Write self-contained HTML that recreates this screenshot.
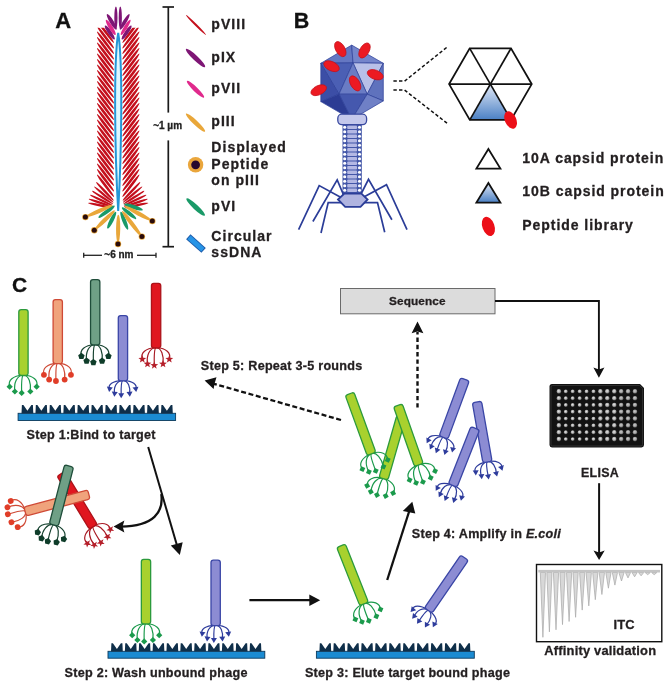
<!DOCTYPE html>
<html><head><meta charset="utf-8"><title>Phage display</title>
<style>html,body{margin:0;padding:0;background:#fff;width:669px;height:685px;overflow:hidden}
svg{display:block;will-change:transform} text{font-family:"Liberation Sans",sans-serif;font-weight:bold}</style></head>
<body><svg width="669" height="685" viewBox="0 0 669 685">
<rect width="669" height="685" fill="#fff"/>
<text x="55.3" y="28" font-size="22" fill="#111" stroke="#111" stroke-width="0.3" letter-spacing="0" text-anchor="start" >A</text>
<defs><clipPath id="rc"><rect x="80" y="27.8" width="80" height="200"/></clipPath></defs>
<g clip-path="url(#rc)">
<ellipse cx="105.50" cy="20.75" rx="14.06" ry="1.35" transform="rotate(53.00 105.50 20.75)" fill="#c40f1c"/>
<ellipse cx="130.90" cy="20.75" rx="14.06" ry="1.35" transform="rotate(127.00 130.90 20.75)" fill="#c40f1c"/>
<ellipse cx="105.50" cy="26.25" rx="14.06" ry="1.35" transform="rotate(53.00 105.50 26.25)" fill="#c40f1c"/>
<ellipse cx="130.90" cy="26.25" rx="14.06" ry="1.35" transform="rotate(127.00 130.90 26.25)" fill="#c40f1c"/>
<ellipse cx="105.50" cy="31.75" rx="14.06" ry="1.35" transform="rotate(53.00 105.50 31.75)" fill="#c40f1c"/>
<ellipse cx="130.90" cy="31.75" rx="14.06" ry="1.35" transform="rotate(127.00 130.90 31.75)" fill="#c40f1c"/>
<ellipse cx="105.50" cy="37.25" rx="14.06" ry="1.35" transform="rotate(53.00 105.50 37.25)" fill="#c40f1c"/>
<ellipse cx="130.90" cy="37.25" rx="14.06" ry="1.35" transform="rotate(127.00 130.90 37.25)" fill="#c40f1c"/>
<ellipse cx="105.50" cy="42.75" rx="14.06" ry="1.35" transform="rotate(53.00 105.50 42.75)" fill="#c40f1c"/>
<ellipse cx="130.90" cy="42.75" rx="14.06" ry="1.35" transform="rotate(127.00 130.90 42.75)" fill="#c40f1c"/>
<ellipse cx="105.50" cy="48.25" rx="14.06" ry="1.35" transform="rotate(53.00 105.50 48.25)" fill="#c40f1c"/>
<ellipse cx="130.90" cy="48.25" rx="14.06" ry="1.35" transform="rotate(127.00 130.90 48.25)" fill="#c40f1c"/>
<ellipse cx="105.50" cy="53.75" rx="14.06" ry="1.35" transform="rotate(53.00 105.50 53.75)" fill="#c40f1c"/>
<ellipse cx="130.90" cy="53.75" rx="14.06" ry="1.35" transform="rotate(127.00 130.90 53.75)" fill="#c40f1c"/>
<ellipse cx="105.50" cy="59.25" rx="14.06" ry="1.35" transform="rotate(53.00 105.50 59.25)" fill="#c40f1c"/>
<ellipse cx="130.90" cy="59.25" rx="14.06" ry="1.35" transform="rotate(127.00 130.90 59.25)" fill="#c40f1c"/>
<ellipse cx="105.50" cy="64.75" rx="14.06" ry="1.35" transform="rotate(53.00 105.50 64.75)" fill="#c40f1c"/>
<ellipse cx="130.90" cy="64.75" rx="14.06" ry="1.35" transform="rotate(127.00 130.90 64.75)" fill="#c40f1c"/>
<ellipse cx="105.50" cy="70.25" rx="14.06" ry="1.35" transform="rotate(53.00 105.50 70.25)" fill="#c40f1c"/>
<ellipse cx="130.90" cy="70.25" rx="14.06" ry="1.35" transform="rotate(127.00 130.90 70.25)" fill="#c40f1c"/>
<ellipse cx="105.50" cy="75.75" rx="14.06" ry="1.35" transform="rotate(53.00 105.50 75.75)" fill="#c40f1c"/>
<ellipse cx="130.90" cy="75.75" rx="14.06" ry="1.35" transform="rotate(127.00 130.90 75.75)" fill="#c40f1c"/>
<ellipse cx="105.50" cy="81.25" rx="14.06" ry="1.35" transform="rotate(53.00 105.50 81.25)" fill="#c40f1c"/>
<ellipse cx="130.90" cy="81.25" rx="14.06" ry="1.35" transform="rotate(127.00 130.90 81.25)" fill="#c40f1c"/>
<ellipse cx="105.50" cy="86.75" rx="14.06" ry="1.35" transform="rotate(53.00 105.50 86.75)" fill="#c40f1c"/>
<ellipse cx="130.90" cy="86.75" rx="14.06" ry="1.35" transform="rotate(127.00 130.90 86.75)" fill="#c40f1c"/>
<ellipse cx="105.50" cy="92.25" rx="14.06" ry="1.35" transform="rotate(53.00 105.50 92.25)" fill="#c40f1c"/>
<ellipse cx="130.90" cy="92.25" rx="14.06" ry="1.35" transform="rotate(127.00 130.90 92.25)" fill="#c40f1c"/>
<ellipse cx="105.50" cy="97.75" rx="14.06" ry="1.35" transform="rotate(53.00 105.50 97.75)" fill="#c40f1c"/>
<ellipse cx="130.90" cy="97.75" rx="14.06" ry="1.35" transform="rotate(127.00 130.90 97.75)" fill="#c40f1c"/>
<ellipse cx="105.50" cy="103.25" rx="14.06" ry="1.35" transform="rotate(53.00 105.50 103.25)" fill="#c40f1c"/>
<ellipse cx="130.90" cy="103.25" rx="14.06" ry="1.35" transform="rotate(127.00 130.90 103.25)" fill="#c40f1c"/>
<ellipse cx="105.50" cy="108.75" rx="14.06" ry="1.35" transform="rotate(53.00 105.50 108.75)" fill="#c40f1c"/>
<ellipse cx="130.90" cy="108.75" rx="14.06" ry="1.35" transform="rotate(127.00 130.90 108.75)" fill="#c40f1c"/>
<ellipse cx="105.50" cy="114.25" rx="14.06" ry="1.35" transform="rotate(53.00 105.50 114.25)" fill="#c40f1c"/>
<ellipse cx="130.90" cy="114.25" rx="14.06" ry="1.35" transform="rotate(127.00 130.90 114.25)" fill="#c40f1c"/>
<ellipse cx="105.50" cy="119.75" rx="14.06" ry="1.35" transform="rotate(53.00 105.50 119.75)" fill="#c40f1c"/>
<ellipse cx="130.90" cy="119.75" rx="14.06" ry="1.35" transform="rotate(127.00 130.90 119.75)" fill="#c40f1c"/>
<ellipse cx="105.50" cy="125.25" rx="14.06" ry="1.35" transform="rotate(53.00 105.50 125.25)" fill="#c40f1c"/>
<ellipse cx="130.90" cy="125.25" rx="14.06" ry="1.35" transform="rotate(127.00 130.90 125.25)" fill="#c40f1c"/>
<ellipse cx="105.50" cy="130.75" rx="14.06" ry="1.35" transform="rotate(53.00 105.50 130.75)" fill="#c40f1c"/>
<ellipse cx="130.90" cy="130.75" rx="14.06" ry="1.35" transform="rotate(127.00 130.90 130.75)" fill="#c40f1c"/>
<ellipse cx="105.50" cy="136.25" rx="14.06" ry="1.35" transform="rotate(53.00 105.50 136.25)" fill="#c40f1c"/>
<ellipse cx="130.90" cy="136.25" rx="14.06" ry="1.35" transform="rotate(127.00 130.90 136.25)" fill="#c40f1c"/>
<ellipse cx="105.50" cy="141.75" rx="14.06" ry="1.35" transform="rotate(53.00 105.50 141.75)" fill="#c40f1c"/>
<ellipse cx="130.90" cy="141.75" rx="14.06" ry="1.35" transform="rotate(127.00 130.90 141.75)" fill="#c40f1c"/>
<ellipse cx="105.50" cy="147.25" rx="14.06" ry="1.35" transform="rotate(53.00 105.50 147.25)" fill="#c40f1c"/>
<ellipse cx="130.90" cy="147.25" rx="14.06" ry="1.35" transform="rotate(127.00 130.90 147.25)" fill="#c40f1c"/>
<ellipse cx="105.50" cy="152.75" rx="14.06" ry="1.35" transform="rotate(53.00 105.50 152.75)" fill="#c40f1c"/>
<ellipse cx="130.90" cy="152.75" rx="14.06" ry="1.35" transform="rotate(127.00 130.90 152.75)" fill="#c40f1c"/>
<ellipse cx="105.50" cy="158.25" rx="14.06" ry="1.35" transform="rotate(53.00 105.50 158.25)" fill="#c40f1c"/>
<ellipse cx="130.90" cy="158.25" rx="14.06" ry="1.35" transform="rotate(127.00 130.90 158.25)" fill="#c40f1c"/>
<ellipse cx="105.50" cy="163.75" rx="14.06" ry="1.35" transform="rotate(53.00 105.50 163.75)" fill="#c40f1c"/>
<ellipse cx="130.90" cy="163.75" rx="14.06" ry="1.35" transform="rotate(127.00 130.90 163.75)" fill="#c40f1c"/>
<ellipse cx="105.50" cy="169.25" rx="14.06" ry="1.35" transform="rotate(53.00 105.50 169.25)" fill="#c40f1c"/>
<ellipse cx="130.90" cy="169.25" rx="14.06" ry="1.35" transform="rotate(127.00 130.90 169.25)" fill="#c40f1c"/>
<ellipse cx="105.50" cy="174.75" rx="14.06" ry="1.35" transform="rotate(53.00 105.50 174.75)" fill="#c40f1c"/>
<ellipse cx="130.90" cy="174.75" rx="14.06" ry="1.35" transform="rotate(127.00 130.90 174.75)" fill="#c40f1c"/>
<ellipse cx="105.50" cy="180.25" rx="14.06" ry="1.35" transform="rotate(53.00 105.50 180.25)" fill="#c40f1c"/>
<ellipse cx="130.90" cy="180.25" rx="14.06" ry="1.35" transform="rotate(127.00 130.90 180.25)" fill="#c40f1c"/>
<ellipse cx="105.50" cy="185.75" rx="14.06" ry="1.35" transform="rotate(53.00 105.50 185.75)" fill="#c40f1c"/>
<ellipse cx="130.90" cy="185.75" rx="14.06" ry="1.35" transform="rotate(127.00 130.90 185.75)" fill="#c40f1c"/>
</g>
<ellipse cx="104.90" cy="191.40" rx="12.70" ry="1.15" transform="rotate(46.67 104.90 191.40)" fill="#c40f1c"/>
<ellipse cx="131.50" cy="191.40" rx="12.70" ry="1.15" transform="rotate(133.33 131.50 191.40)" fill="#c40f1c"/>
<ellipse cx="103.75" cy="194.60" rx="12.49" ry="1.15" transform="rotate(39.71 103.75 194.60)" fill="#c40f1c"/>
<ellipse cx="132.65" cy="194.60" rx="12.49" ry="1.15" transform="rotate(140.29 132.65 194.60)" fill="#c40f1c"/>
<ellipse cx="102.55" cy="197.50" rx="12.38" ry="1.15" transform="rotate(32.34 102.55 197.50)" fill="#c40f1c"/>
<ellipse cx="133.85" cy="197.50" rx="12.38" ry="1.15" transform="rotate(147.66 133.85 197.50)" fill="#c40f1c"/>
<ellipse cx="101.35" cy="200.20" rx="12.46" ry="1.15" transform="rotate(24.94 101.35 200.20)" fill="#c40f1c"/>
<ellipse cx="135.05" cy="200.20" rx="12.46" ry="1.15" transform="rotate(155.06 135.05 200.20)" fill="#c40f1c"/>
<ellipse cx="100.55" cy="202.85" rx="12.43" ry="1.15" transform="rotate(17.98 100.55 202.85)" fill="#c40f1c"/>
<ellipse cx="135.85" cy="202.85" rx="12.43" ry="1.15" transform="rotate(162.02 135.85 202.85)" fill="#c40f1c"/>
<ellipse cx="100.05" cy="205.40" rx="12.30" ry="1.15" transform="rotate(11.84 100.05 205.40)" fill="#c40f1c"/>
<ellipse cx="136.35" cy="205.40" rx="12.30" ry="1.15" transform="rotate(168.16 136.35 205.40)" fill="#c40f1c"/>
<ellipse cx="115.90" cy="17.75" rx="11.25" ry="1.60" transform="rotate(90.00 115.90 17.75)" fill="#7e1675"/>
<ellipse cx="120.30" cy="17.75" rx="11.25" ry="1.60" transform="rotate(90.00 120.30 17.75)" fill="#7e1675"/>
<ellipse cx="109.80" cy="32.50" rx="8.49" ry="1.95" transform="rotate(55.56 109.80 32.50)" fill="#7e1675"/>
<ellipse cx="126.60" cy="32.50" rx="8.49" ry="1.80" transform="rotate(124.44 126.60 32.50)" fill="#7e1675"/>
<ellipse cx="110.75" cy="27.35" rx="9.00" ry="1.95" transform="rotate(58.16 110.75 27.35)" fill="#e02a8c"/>
<ellipse cx="125.65" cy="27.35" rx="9.00" ry="1.80" transform="rotate(121.84 125.65 27.35)" fill="#e02a8c"/>
<ellipse cx="111.70" cy="21.80" rx="9.11" ry="1.95" transform="rotate(58.93 111.70 21.80)" fill="#7e1675"/>
<ellipse cx="124.70" cy="21.80" rx="9.11" ry="1.80" transform="rotate(121.07 124.70 21.80)" fill="#7e1675"/>
<path d="M118.2,33 C122.8,60 121.8,150 118.2,211 C114.60000000000001,150 113.60000000000001,60 118.2,33Z" fill="#def7ff" stroke="#2496d6" stroke-width="2"/>
<ellipse cx="106.60" cy="211.75" rx="10.05" ry="2.00" transform="rotate(143.70 106.60 211.75)" fill="#1a9a68"/>
<ellipse cx="111.70" cy="220.10" rx="9.39" ry="2.00" transform="rotate(116.57 111.70 220.10)" fill="#1a9a68"/>
<ellipse cx="124.25" cy="220.70" rx="9.67" ry="2.00" transform="rotate(68.47 124.25 220.70)" fill="#1a9a68"/>
<ellipse cx="129.05" cy="213.25" rx="9.11" ry="2.00" transform="rotate(38.32 129.05 213.25)" fill="#1a9a68"/>
<ellipse cx="133.50" cy="207.00" rx="9.77" ry="2.00" transform="rotate(17.88 133.50 207.00)" fill="#1a9a68"/>
<ellipse cx="99.40" cy="210.85" rx="14.08" ry="2.10" transform="rotate(156.35 99.40 210.85)" fill="#e9a73a"/>
<ellipse cx="104.85" cy="220.00" rx="13.68" ry="2.10" transform="rotate(136.04 104.85 220.00)" fill="#e9a73a"/>
<ellipse cx="118.15" cy="228.85" rx="14.15" ry="2.10" transform="rotate(90.61 118.15 228.85)" fill="#e9a73a"/>
<ellipse cx="131.70" cy="223.50" rx="15.62" ry="2.10" transform="rotate(52.54 131.70 223.50)" fill="#e9a73a"/>
<ellipse cx="138.20" cy="213.40" rx="15.21" ry="2.10" transform="rotate(28.25 138.20 213.40)" fill="#e9a73a"/>
<circle cx="85.4" cy="217.1" r="3.2" fill="#e9a73a"/><circle cx="85.4" cy="217.1" r="2.5" fill="#2a0c0c"/>
<circle cx="94.3" cy="230.3" r="3.2" fill="#e9a73a"/><circle cx="94.3" cy="230.3" r="2.5" fill="#2a0c0c"/>
<circle cx="118" cy="244" r="3.2" fill="#e9a73a"/><circle cx="118" cy="244" r="2.5" fill="#2a0c0c"/>
<circle cx="141.9" cy="236.6" r="3.2" fill="#e9a73a"/><circle cx="141.9" cy="236.6" r="2.5" fill="#2a0c0c"/>
<circle cx="152.3" cy="221.1" r="3.2" fill="#e9a73a"/><circle cx="152.3" cy="221.1" r="2.5" fill="#2a0c0c"/>
<g stroke="#222" stroke-width="1.3">
<line x1="83.7" y1="255.3" x2="102" y2="255.3"/><line x1="137" y1="255.3" x2="156" y2="255.3"/>
<line x1="83.7" y1="252.8" x2="83.7" y2="257.8"/><line x1="156" y1="252.8" x2="156" y2="257.8"/>
</g>
<text x="104.3" y="257.8" font-size="10" fill="#222" stroke="#222" stroke-width="0.3" letter-spacing="0" text-anchor="start" >~6 nm</text>
<g stroke="#1a1a1a" stroke-width="1.7">
<line x1="168.3" y1="7" x2="168.3" y2="112.6"/><line x1="168.3" y1="140.4" x2="168.3" y2="246.7"/>
<line x1="162.5" y1="7" x2="174" y2="7"/><line x1="162.5" y1="246.7" x2="174" y2="246.7"/>
</g>
<text x="153.2" y="129" font-size="10" fill="#222" stroke="#222" stroke-width="0.3" letter-spacing="0" text-anchor="start" >~1 µm</text>
<ellipse cx="196.00" cy="25.00" rx="14.14" ry="1.10" transform="rotate(45.00 196.00 25.00)" fill="#c40f1c"/>
<ellipse cx="195.50" cy="58.00" rx="13.09" ry="2.50" transform="rotate(43.45 195.50 58.00)" fill="#7e1675"/>
<ellipse cx="195.50" cy="89.30" rx="11.88" ry="2.30" transform="rotate(44.32 195.50 89.30)" fill="#e02a8c"/>
<ellipse cx="195.50" cy="122.65" rx="13.12" ry="2.30" transform="rotate(43.61 195.50 122.65)" fill="#e9a73a"/>
<circle cx="195.6" cy="164.8" r="7.7" fill="#eaa63c"/><circle cx="195.6" cy="164.8" r="4.4" fill="#26082e"/>
<ellipse cx="195.65" cy="207.05" rx="12.52" ry="2.50" transform="rotate(43.06 195.65 207.05)" fill="#1a9a68"/>
<line x1="188.3" y1="236.8" x2="203.6" y2="250.4" stroke="#1d5aa8" stroke-width="6.6"/>
<line x1="189" y1="237.4" x2="202.9" y2="249.8" stroke="#2794e6" stroke-width="4.8"/>
<text x="211.3" y="28.6" font-size="14" fill="#231f20" stroke="#231f20" stroke-width="0.3" letter-spacing="1.05" text-anchor="start" >pVIII</text>
<text x="211.3" y="62.0" font-size="14" fill="#231f20" stroke="#231f20" stroke-width="0.3" letter-spacing="1.05" text-anchor="start" >pIX</text>
<text x="211.3" y="93.1" font-size="14" fill="#231f20" stroke="#231f20" stroke-width="0.3" letter-spacing="1.05" text-anchor="start" >pVII</text>
<text x="211.3" y="126.3" font-size="14" fill="#231f20" stroke="#231f20" stroke-width="0.3" letter-spacing="1.05" text-anchor="start" >pIII</text>
<text x="211.3" y="152.3" font-size="14" fill="#231f20" stroke="#231f20" stroke-width="0.3" letter-spacing="1.05" text-anchor="start" >Displayed</text>
<text x="211.3" y="168.60000000000002" font-size="14" fill="#231f20" stroke="#231f20" stroke-width="0.3" letter-spacing="1.05" text-anchor="start" >Peptide</text>
<text x="211.3" y="184.8" font-size="14" fill="#231f20" stroke="#231f20" stroke-width="0.3" letter-spacing="1.05" text-anchor="start" >on pIII</text>
<text x="211.3" y="211.3" font-size="14" fill="#231f20" stroke="#231f20" stroke-width="0.3" letter-spacing="1.05" text-anchor="start" >pVI</text>
<text x="211.3" y="240.8" font-size="14" fill="#231f20" stroke="#231f20" stroke-width="0.3" letter-spacing="1.05" text-anchor="start" >Circular</text>
<text x="211.3" y="256.8" font-size="14" fill="#231f20" stroke="#231f20" stroke-width="0.3" letter-spacing="1.05" text-anchor="start" >ssDNA</text>
<text x="293.8" y="27.8" font-size="21.5" fill="#111" stroke="#111" stroke-width="0.3" letter-spacing="0" text-anchor="start" >B</text>
<polygon points="351.7,45.1 320.8,63.3 353,62.8" fill="#6577c2" stroke="#2d3f98" stroke-width="0.7" stroke-linejoin="round"/>
<polygon points="351.7,45.1 353,62.8 383.3,63.3" fill="#7485cb" stroke="#2d3f98" stroke-width="0.7" stroke-linejoin="round"/>
<polygon points="320.8,63.3 353,62.8 339,94.2" fill="#4b5fb4" stroke="#2d3f98" stroke-width="0.7" stroke-linejoin="round"/>
<polygon points="353,62.8 383.3,63.3 367.2,94.2" fill="#b8c0e8" stroke="#2d3f98" stroke-width="0.7" stroke-linejoin="round"/>
<polygon points="353,62.8 339,94.2 367.2,94.2" fill="#6a7cc4" stroke="#2d3f98" stroke-width="0.7" stroke-linejoin="round"/>
<polygon points="383.3,63.3 367.2,94.2 383.3,100.9" fill="#5f72bd" stroke="#2d3f98" stroke-width="0.7" stroke-linejoin="round"/>
<polygon points="320.8,63.3 339,94.2 320.8,101.6" fill="#3c4ea6" stroke="#2d3f98" stroke-width="0.7" stroke-linejoin="round"/>
<polygon points="339,94.2 367.2,94.2 351.7,119.5" fill="#4558ae" stroke="#2d3f98" stroke-width="0.7" stroke-linejoin="round"/>
<polygon points="320.8,101.6 339,94.2 351.7,119.5" fill="#2c3c94" stroke="#2d3f98" stroke-width="0.7" stroke-linejoin="round"/>
<polygon points="367.2,94.2 383.3,100.9 351.7,119.5" fill="#6f80c6" stroke="#2d3f98" stroke-width="0.7" stroke-linejoin="round"/>
<ellipse cx="340.3" cy="49.1" rx="8.3" ry="4.6" transform="rotate(60 340.3 49.1)" fill="#ec1a22" stroke="#c4101a" stroke-width="0.7"/>
<ellipse cx="364.5" cy="50.5" rx="8.3" ry="4.6" transform="rotate(-60 364.5 50.5)" fill="#ec1a22" stroke="#c4101a" stroke-width="0.7"/>
<ellipse cx="331.5" cy="66.2" rx="8.3" ry="4.6" transform="rotate(25 331.5 66.2)" fill="#ec1a22" stroke="#c4101a" stroke-width="0.7"/>
<ellipse cx="375.2" cy="74.7" rx="8.3" ry="4.6" transform="rotate(20 375.2 74.7)" fill="#ec1a22" stroke="#c4101a" stroke-width="0.7"/>
<ellipse cx="355.1" cy="83.4" rx="8.3" ry="4.6" transform="rotate(60 355.1 83.4)" fill="#ec1a22" stroke="#c4101a" stroke-width="0.7"/>
<ellipse cx="318.7" cy="90.2" rx="8.3" ry="4.6" transform="rotate(-25 318.7 90.2)" fill="#ec1a22" stroke="#c4101a" stroke-width="0.7"/>
<rect x="342.5" y="123" width="19.3" height="72" fill="#4356a8"/>
<rect x="347.2" y="125.6" width="9.8" height="3.4" rx="0.8" fill="#b4b8e4"/>
<circle cx="344.7" cy="127.3" r="1.55" fill="#fff"/><circle cx="359.5" cy="127.3" r="1.55" fill="#fff"/>
<rect x="347.2" y="130.1" width="9.8" height="3.4" rx="0.8" fill="#b4b8e4"/>
<circle cx="344.7" cy="131.8" r="1.55" fill="#fff"/><circle cx="359.5" cy="131.8" r="1.55" fill="#fff"/>
<rect x="347.2" y="134.6" width="9.8" height="3.4" rx="0.8" fill="#b4b8e4"/>
<circle cx="344.7" cy="136.3" r="1.55" fill="#fff"/><circle cx="359.5" cy="136.3" r="1.55" fill="#fff"/>
<rect x="347.2" y="139.1" width="9.8" height="3.4" rx="0.8" fill="#b4b8e4"/>
<circle cx="344.7" cy="140.8" r="1.55" fill="#fff"/><circle cx="359.5" cy="140.8" r="1.55" fill="#fff"/>
<rect x="347.2" y="143.6" width="9.8" height="3.4" rx="0.8" fill="#b4b8e4"/>
<circle cx="344.7" cy="145.3" r="1.55" fill="#fff"/><circle cx="359.5" cy="145.3" r="1.55" fill="#fff"/>
<rect x="347.2" y="148.1" width="9.8" height="3.4" rx="0.8" fill="#b4b8e4"/>
<circle cx="344.7" cy="149.8" r="1.55" fill="#fff"/><circle cx="359.5" cy="149.8" r="1.55" fill="#fff"/>
<rect x="347.2" y="152.6" width="9.8" height="3.4" rx="0.8" fill="#b4b8e4"/>
<circle cx="344.7" cy="154.3" r="1.55" fill="#fff"/><circle cx="359.5" cy="154.3" r="1.55" fill="#fff"/>
<rect x="347.2" y="157.1" width="9.8" height="3.4" rx="0.8" fill="#b4b8e4"/>
<circle cx="344.7" cy="158.8" r="1.55" fill="#fff"/><circle cx="359.5" cy="158.8" r="1.55" fill="#fff"/>
<rect x="347.2" y="161.6" width="9.8" height="3.4" rx="0.8" fill="#b4b8e4"/>
<circle cx="344.7" cy="163.3" r="1.55" fill="#fff"/><circle cx="359.5" cy="163.3" r="1.55" fill="#fff"/>
<rect x="347.2" y="166.1" width="9.8" height="3.4" rx="0.8" fill="#b4b8e4"/>
<circle cx="344.7" cy="167.8" r="1.55" fill="#fff"/><circle cx="359.5" cy="167.8" r="1.55" fill="#fff"/>
<rect x="347.2" y="170.6" width="9.8" height="3.4" rx="0.8" fill="#b4b8e4"/>
<circle cx="344.7" cy="172.3" r="1.55" fill="#fff"/><circle cx="359.5" cy="172.3" r="1.55" fill="#fff"/>
<rect x="347.2" y="175.1" width="9.8" height="3.4" rx="0.8" fill="#b4b8e4"/>
<circle cx="344.7" cy="176.8" r="1.55" fill="#fff"/><circle cx="359.5" cy="176.8" r="1.55" fill="#fff"/>
<rect x="347.2" y="179.6" width="9.8" height="3.4" rx="0.8" fill="#b4b8e4"/>
<circle cx="344.7" cy="181.3" r="1.55" fill="#fff"/><circle cx="359.5" cy="181.3" r="1.55" fill="#fff"/>
<rect x="347.2" y="184.1" width="9.8" height="3.4" rx="0.8" fill="#b4b8e4"/>
<circle cx="344.7" cy="185.8" r="1.55" fill="#fff"/><circle cx="359.5" cy="185.8" r="1.55" fill="#fff"/>
<rect x="347.2" y="188.6" width="9.8" height="3.4" rx="0.8" fill="#b4b8e4"/>
<circle cx="344.7" cy="190.3" r="1.55" fill="#fff"/><circle cx="359.5" cy="190.3" r="1.55" fill="#fff"/>
<rect x="337.8" y="114.2" width="28.8" height="10.4" rx="4" fill="#c4c8ec" stroke="#3a4aa0" stroke-width="1.3"/>
<g fill="none" stroke="#2b3d98" stroke-width="1.7" stroke-linejoin="miter">
<polyline points="342,198 319.2,185.6 298.6,229.6"/>
<polyline points="344,196 337.2,179.9 312.9,221.5"/>
<polyline points="344,202.6 328.2,202.6 321,233"/>
<polyline points="362,198 386.5,184.7 407,229.6"/>
<polyline points="360,196 368.5,179.3 391.9,219.7"/>
<polyline points="360,202.6 377.5,202.6 384.7,232.2"/>
</g>
<polygon points="338,199.5 344.3,193.7 361.4,193.7 367.6,199.5 360.5,206.8 345.2,206.8" fill="#b0b4e0" stroke="#2b3d98" stroke-width="1.8"/>
<g fill="none" stroke="#111" stroke-width="1.5" stroke-dasharray="3.4,2.2">
<polyline points="393.4,81.1 404.6,81.1 448.3,46.1"/>
<polyline points="393.4,90.1 404.6,90.1 448.3,124.2"/>
</g>
<defs><linearGradient id="bg" x1="0" y1="0" x2="0" y2="1"><stop offset="0" stop-color="#e2e9f7"/><stop offset="1" stop-color="#4a80c4"/></linearGradient><linearGradient id="bg2" x1="0" y1="0" x2="0" y2="1"><stop offset="0" stop-color="#e2e9f7"/><stop offset="1" stop-color="#4a80c4"/></linearGradient></defs>
<polygon points="490.4,84.1 511.0,119.9 469.8,119.9" fill="url(#bg)"/>
<polygon points="531.7,84.1 511.0,119.9 469.8,119.9 449.1,84.1 469.7,48.3 511.0,48.3" fill="none" stroke="#111" stroke-width="1.8" stroke-linejoin="miter"/>
<g stroke="#111" stroke-width="1.7">
<line x1="531.7" y1="84.1" x2="449.1" y2="84.1"/>
<line x1="511.0" y1="119.9" x2="469.7" y2="48.3"/>
<line x1="469.8" y1="119.9" x2="511.0" y2="48.3"/>
</g>
<ellipse cx="510.6" cy="120" rx="9.2" ry="5.7" transform="rotate(66 510.6 120)" fill="#ec0f18"/>
<polygon points="488.4,149 476.4,168.6 500.4,168.6" fill="#fff" stroke="#111" stroke-width="1.8" stroke-linejoin="miter"/>
<polygon points="488.4,183 476.4,202.6 500.4,202.6" fill="url(#bg2)" stroke="#111" stroke-width="1.8" stroke-linejoin="miter"/>
<ellipse cx="488.4" cy="226.4" rx="9.9" ry="6" transform="rotate(70 488.4 226.4)" fill="#ec0f18"/>
<text x="522.3" y="162.5" font-size="14" fill="#231f20" stroke="#231f20" stroke-width="0.3" letter-spacing="0.95" text-anchor="start" >10A capsid protein</text>
<text x="522.3" y="196" font-size="14" fill="#231f20" stroke="#231f20" stroke-width="0.3" letter-spacing="0.95" text-anchor="start" >10B capsid protein</text>
<text x="522.3" y="229.5" font-size="14" fill="#231f20" stroke="#231f20" stroke-width="0.3" letter-spacing="0.95" text-anchor="start" >Peptide library</text>
<text x="12" y="292.3" font-size="21" fill="#111" stroke="#111" stroke-width="0.3" letter-spacing="0" text-anchor="start" >C</text>
<g transform="translate(23.45 375.50) rotate(0.00)">
<g fill="none" stroke="#1b9a4c" stroke-width="1.2" stroke-linecap="round">
<path d="M-0.83,-0.5 C-10.35,0.22 -15.87,5.04 -13.80,11.20"/>
<path d="M-0.52,-0.5 C-6.45,0.32 -9.89,7.20 -8.60,16.00"/>
<path d="M-0.11,-0.5 C-1.35,0.35 -2.07,7.83 -1.80,17.40"/>
<path d="M0.41,-0.5 C5.18,0.32 7.93,7.20 6.90,16.00"/>
<path d="M0.79,-0.5 C9.90,0.22 15.18,5.04 13.20,11.20"/>
</g>
<rect x="-16.00" y="9.00" width="4.4" height="4.4" transform="rotate(45 -13.80 11.20)" fill="#1b9a4c"/>
<rect x="-10.80" y="13.80" width="4.4" height="4.4" transform="rotate(45 -8.60 16.00)" fill="#1b9a4c"/>
<rect x="-4.00" y="15.20" width="4.4" height="4.4" transform="rotate(45 -1.80 17.40)" fill="#1b9a4c"/>
<rect x="4.70" y="13.80" width="4.4" height="4.4" transform="rotate(45 6.90 16.00)" fill="#1b9a4c"/>
<rect x="11.00" y="9.00" width="4.4" height="4.4" transform="rotate(45 13.20 11.20)" fill="#1b9a4c"/>
<rect x="-4.65" y="-65.8" width="9.3" height="65.8" rx="2.4" fill="#a8d12e" stroke="#2c9a3c" stroke-width="1.3"/>
</g>
<g transform="translate(57.75 363.60) rotate(0.00)">
<g fill="none" stroke="#cf4a36" stroke-width="1.2" stroke-linecap="round">
<path d="M-0.83,-0.5 C-10.35,0.22 -15.87,5.04 -13.80,11.20"/>
<path d="M-0.52,-0.5 C-6.45,0.32 -9.89,7.20 -8.60,16.00"/>
<path d="M-0.11,-0.5 C-1.35,0.35 -2.07,7.83 -1.80,17.40"/>
<path d="M0.41,-0.5 C5.18,0.32 7.93,7.20 6.90,16.00"/>
<path d="M0.79,-0.5 C9.90,0.22 15.18,5.04 13.20,11.20"/>
</g>
<circle cx="-13.80" cy="11.20" r="2.9" fill="#e03d28"/>
<circle cx="-8.60" cy="16.00" r="2.9" fill="#e03d28"/>
<circle cx="-1.80" cy="17.40" r="2.9" fill="#e03d28"/>
<circle cx="6.90" cy="16.00" r="2.9" fill="#e03d28"/>
<circle cx="13.20" cy="11.20" r="2.9" fill="#e03d28"/>
<rect x="-4.65" y="-64" width="9.3" height="64" rx="2.4" fill="#f0a37c" stroke="#cf4a36" stroke-width="1.3"/>
</g>
<g transform="translate(95.20 345.00) rotate(0.00)">
<g fill="none" stroke="#174330" stroke-width="1.2" stroke-linecap="round">
<path d="M-0.83,-0.5 C-10.35,0.22 -15.87,5.04 -13.80,11.20"/>
<path d="M-0.52,-0.5 C-6.45,0.32 -9.89,7.20 -8.60,16.00"/>
<path d="M-0.11,-0.5 C-1.35,0.35 -2.07,7.83 -1.80,17.40"/>
<path d="M0.41,-0.5 C5.18,0.32 7.93,7.20 6.90,16.00"/>
<path d="M0.79,-0.5 C9.90,0.22 15.18,5.04 13.20,11.20"/>
</g>
<polygon points="-13.80,7.80 -10.57,10.15 -11.80,13.95 -15.80,13.95 -17.03,10.15" fill="#0f3d2a"/>
<polygon points="-8.60,12.60 -5.37,14.95 -6.60,18.75 -10.60,18.75 -11.83,14.95" fill="#0f3d2a"/>
<polygon points="-1.80,14.00 1.43,16.35 0.20,20.15 -3.80,20.15 -5.03,16.35" fill="#0f3d2a"/>
<polygon points="6.90,12.60 10.13,14.95 8.90,18.75 4.90,18.75 3.67,14.95" fill="#0f3d2a"/>
<polygon points="13.20,7.80 16.43,10.15 15.20,13.95 11.20,13.95 9.97,10.15" fill="#0f3d2a"/>
<rect x="-4.65" y="-65.3" width="9.3" height="65.3" rx="2.4" fill="#6fa086" stroke="#1f4d3a" stroke-width="1.3"/>
</g>
<g transform="translate(122.95 380.80) rotate(0.00)">
<g fill="none" stroke="#2e3c9c" stroke-width="1.2" stroke-linecap="round">
<path d="M-0.83,-0.5 C-10.07,0.17 -15.44,3.79 -13.43,8.43"/>
<path d="M-0.52,-0.5 C-6.27,0.26 -9.62,5.94 -8.37,13.21"/>
<path d="M-0.11,-0.5 C-1.31,0.29 -2.01,6.57 -1.75,14.60"/>
<path d="M0.41,-0.5 C5.03,0.26 7.72,5.94 6.71,13.21"/>
<path d="M0.79,-0.5 C9.63,0.17 14.77,3.79 12.84,8.42"/>
</g>
<polygon points="-13.83,11.20 -16.08,5.82 -10.14,6.68" fill="#2e3c9c"/>
<polygon points="-8.62,16.00 -11.16,10.75 -5.18,11.29" fill="#2e3c9c"/>
<polygon points="-1.80,17.40 -4.71,12.34 1.29,12.46" fill="#2e3c9c"/>
<polygon points="6.91,16.00 3.56,11.23 9.55,10.80" fill="#2e3c9c"/>
<polygon points="13.23,11.20 9.57,6.66 15.51,5.83" fill="#2e3c9c"/>
<rect x="-4.65" y="-65.2" width="9.3" height="65.2" rx="2.4" fill="#8c8cd3" stroke="#3a46a6" stroke-width="1.3"/>
</g>
<g transform="translate(156.10 348.00) rotate(0.00)">
<g fill="none" stroke="#a81a24" stroke-width="1.2" stroke-linecap="round">
<path d="M-0.83,-0.5 C-10.35,0.22 -15.87,5.04 -13.80,11.20"/>
<path d="M-0.52,-0.5 C-6.45,0.32 -9.89,7.20 -8.60,16.00"/>
<path d="M-0.11,-0.5 C-1.35,0.35 -2.07,7.83 -1.80,17.40"/>
<path d="M0.41,-0.5 C5.18,0.32 7.93,7.20 6.90,16.00"/>
<path d="M0.79,-0.5 C9.90,0.22 15.18,5.04 13.20,11.20"/>
</g>
<polygon points="-13.80,7.10 -12.80,9.82 -9.90,9.93 -12.18,11.73 -11.39,14.52 -13.80,12.90 -16.21,14.52 -15.42,11.73 -17.70,9.93 -14.80,9.82" fill="#b51f2a"/>
<polygon points="-8.60,11.90 -7.60,14.62 -4.70,14.73 -6.98,16.53 -6.19,19.32 -8.60,17.70 -11.01,19.32 -10.22,16.53 -12.50,14.73 -9.60,14.62" fill="#b51f2a"/>
<polygon points="-1.80,13.30 -0.80,16.02 2.10,16.13 -0.18,17.93 0.61,20.72 -1.80,19.10 -4.21,20.72 -3.42,17.93 -5.70,16.13 -2.80,16.02" fill="#b51f2a"/>
<polygon points="6.90,11.90 7.90,14.62 10.80,14.73 8.52,16.53 9.31,19.32 6.90,17.70 4.49,19.32 5.28,16.53 3.00,14.73 5.90,14.62" fill="#b51f2a"/>
<polygon points="13.20,7.10 14.20,9.82 17.10,9.93 14.82,11.73 15.61,14.52 13.20,12.90 10.79,14.52 11.58,11.73 9.30,9.93 12.20,9.82" fill="#b51f2a"/>
<rect x="-4.65" y="-64.7" width="9.3" height="64.7" rx="2.4" fill="#e0161f" stroke="#ad1219" stroke-width="1.3"/>
</g>
<rect x="18.1" y="413.3" width="157.5" height="7.199999999999989" fill="#1b8bd2" stroke="#0c3a5c" stroke-width="0.9"/>
<path d="M21.50,413.60 L21.90,404.90 L23.40,404.90 L27.40,410.70 L31.40,404.90 L32.90,404.90 L33.30,413.60Z M35.45,413.60 L35.85,404.90 L37.35,404.90 L41.35,410.70 L45.35,404.90 L46.85,404.90 L47.25,413.60Z M49.40,413.60 L49.80,404.90 L51.30,404.90 L55.30,410.70 L59.30,404.90 L60.80,404.90 L61.20,413.60Z M63.35,413.60 L63.75,404.90 L65.25,404.90 L69.25,410.70 L73.25,404.90 L74.75,404.90 L75.15,413.60Z M77.30,413.60 L77.70,404.90 L79.20,404.90 L83.20,410.70 L87.20,404.90 L88.70,404.90 L89.10,413.60Z M91.25,413.60 L91.65,404.90 L93.15,404.90 L97.15,410.70 L101.15,404.90 L102.65,404.90 L103.05,413.60Z M105.20,413.60 L105.60,404.90 L107.10,404.90 L111.10,410.70 L115.10,404.90 L116.60,404.90 L117.00,413.60Z M119.15,413.60 L119.55,404.90 L121.05,404.90 L125.05,410.70 L129.05,404.90 L130.55,404.90 L130.95,413.60Z M133.10,413.60 L133.50,404.90 L135.00,404.90 L139.00,410.70 L143.00,404.90 L144.50,404.90 L144.90,413.60Z M147.05,413.60 L147.45,404.90 L148.95,404.90 L152.95,410.70 L156.95,404.90 L158.45,404.90 L158.85,413.60Z M161.00,413.60 L161.40,404.90 L162.90,404.90 L166.90,410.70 L170.90,404.90 L172.40,404.90 L172.80,413.60Z " fill="#0f2f4a"/>
<text x="26.6" y="438.5" font-size="12.6" fill="#231f20" stroke="#231f20" stroke-width="0.3" letter-spacing="0.25" text-anchor="start" >Step 1:Bind to target</text>
<g transform="translate(93.30 526.70) rotate(-31.40)">
<g fill="none" stroke="#a81a24" stroke-width="1.2" stroke-linecap="round">
<path d="M-0.83,-0.5 C-10.35,0.22 -15.87,5.04 -13.80,11.20"/>
<path d="M-0.52,-0.5 C-6.45,0.32 -9.89,7.20 -8.60,16.00"/>
<path d="M-0.11,-0.5 C-1.35,0.35 -2.07,7.83 -1.80,17.40"/>
<path d="M0.41,-0.5 C5.18,0.32 7.93,7.20 6.90,16.00"/>
<path d="M0.79,-0.5 C9.90,0.22 15.18,5.04 13.20,11.20"/>
</g>
<polygon points="-13.80,7.10 -12.80,9.82 -9.90,9.93 -12.18,11.73 -11.39,14.52 -13.80,12.90 -16.21,14.52 -15.42,11.73 -17.70,9.93 -14.80,9.82" fill="#b51f2a"/>
<polygon points="-8.60,11.90 -7.60,14.62 -4.70,14.73 -6.98,16.53 -6.19,19.32 -8.60,17.70 -11.01,19.32 -10.22,16.53 -12.50,14.73 -9.60,14.62" fill="#b51f2a"/>
<polygon points="-1.80,13.30 -0.80,16.02 2.10,16.13 -0.18,17.93 0.61,20.72 -1.80,19.10 -4.21,20.72 -3.42,17.93 -5.70,16.13 -2.80,16.02" fill="#b51f2a"/>
<polygon points="6.90,11.90 7.90,14.62 10.80,14.73 8.52,16.53 9.31,19.32 6.90,17.70 4.49,19.32 5.28,16.53 3.00,14.73 5.90,14.62" fill="#b51f2a"/>
<polygon points="13.20,7.10 14.20,9.82 17.10,9.93 14.82,11.73 15.61,14.52 13.20,12.90 10.79,14.52 11.58,11.73 9.30,9.93 12.20,9.82" fill="#b51f2a"/>
<rect x="-4.65" y="-62" width="9.3" height="62" rx="2.4" fill="#e0161f" stroke="#ad1219" stroke-width="1.3"/>
</g>
<g transform="translate(25.10 511.50) rotate(75.00)">
<g fill="none" stroke="#cf4a36" stroke-width="1.2" stroke-linecap="round">
<path d="M-0.83,-0.5 C-10.35,0.22 -15.87,5.04 -13.80,11.20"/>
<path d="M-0.52,-0.5 C-6.45,0.32 -9.89,7.20 -8.60,16.00"/>
<path d="M-0.11,-0.5 C-1.35,0.35 -2.07,7.83 -1.80,17.40"/>
<path d="M0.41,-0.5 C5.18,0.32 7.93,7.20 6.90,16.00"/>
<path d="M0.79,-0.5 C9.90,0.22 15.18,5.04 13.20,11.20"/>
</g>
<circle cx="-13.80" cy="11.20" r="2.9" fill="#e03d28"/>
<circle cx="-8.60" cy="16.00" r="2.9" fill="#e03d28"/>
<circle cx="-1.80" cy="17.40" r="2.9" fill="#e03d28"/>
<circle cx="6.90" cy="16.00" r="2.9" fill="#e03d28"/>
<circle cx="13.20" cy="11.20" r="2.9" fill="#e03d28"/>
<rect x="-4.65" y="-66" width="9.3" height="66" rx="2.4" fill="#f0a37c" stroke="#cf4a36" stroke-width="1.3"/>
</g>
<g transform="translate(53.80 525.00) rotate(14.50)">
<g fill="none" stroke="#174330" stroke-width="1.2" stroke-linecap="round">
<path d="M-0.83,-0.5 C-10.35,0.22 -15.87,5.04 -13.80,11.20"/>
<path d="M-0.52,-0.5 C-6.45,0.32 -9.89,7.20 -8.60,16.00"/>
<path d="M-0.11,-0.5 C-1.35,0.35 -2.07,7.83 -1.80,17.40"/>
<path d="M0.41,-0.5 C5.18,0.32 7.93,7.20 6.90,16.00"/>
<path d="M0.79,-0.5 C9.90,0.22 15.18,5.04 13.20,11.20"/>
</g>
<polygon points="-13.80,7.80 -10.57,10.15 -11.80,13.95 -15.80,13.95 -17.03,10.15" fill="#0f3d2a"/>
<polygon points="-8.60,12.60 -5.37,14.95 -6.60,18.75 -10.60,18.75 -11.83,14.95" fill="#0f3d2a"/>
<polygon points="-1.80,14.00 1.43,16.35 0.20,20.15 -3.80,20.15 -5.03,16.35" fill="#0f3d2a"/>
<polygon points="6.90,12.60 10.13,14.95 8.90,18.75 4.90,18.75 3.67,14.95" fill="#0f3d2a"/>
<polygon points="13.20,7.80 16.43,10.15 15.20,13.95 11.20,13.95 9.97,10.15" fill="#0f3d2a"/>
<rect x="-4.65" y="-61" width="9.3" height="61" rx="2.4" fill="#6fa086" stroke="#1f4d3a" stroke-width="1.3"/>
</g>
<g stroke="#111" stroke-width="2" fill="none">
<line x1="148.2" y1="447" x2="177.6" y2="547.5"/>
<path d="M161.3,494 C163.8,512 154,526 121,526.6" stroke-width="2.3"/>
</g>
<polygon points="179.8,555 170.8,545.6 182.7,542.2" fill="#111"/>
<polygon points="113.6,526.6 124.4,520.6 122.6,526.6 124.4,532.6" fill="#111"/>
<g transform="translate(146.00 624.00) rotate(0.00)">
<g fill="none" stroke="#1b9a4c" stroke-width="1.2" stroke-linecap="round">
<path d="M-0.83,-0.5 C-10.35,0.22 -15.87,5.04 -13.80,11.20"/>
<path d="M-0.52,-0.5 C-6.45,0.32 -9.89,7.20 -8.60,16.00"/>
<path d="M-0.11,-0.5 C-1.35,0.35 -2.07,7.83 -1.80,17.40"/>
<path d="M0.41,-0.5 C5.18,0.32 7.93,7.20 6.90,16.00"/>
<path d="M0.79,-0.5 C9.90,0.22 15.18,5.04 13.20,11.20"/>
</g>
<rect x="-16.00" y="9.00" width="4.4" height="4.4" transform="rotate(45 -13.80 11.20)" fill="#1b9a4c"/>
<rect x="-10.80" y="13.80" width="4.4" height="4.4" transform="rotate(45 -8.60 16.00)" fill="#1b9a4c"/>
<rect x="-4.00" y="15.20" width="4.4" height="4.4" transform="rotate(45 -1.80 17.40)" fill="#1b9a4c"/>
<rect x="4.70" y="13.80" width="4.4" height="4.4" transform="rotate(45 6.90 16.00)" fill="#1b9a4c"/>
<rect x="11.00" y="9.00" width="4.4" height="4.4" transform="rotate(45 13.20 11.20)" fill="#1b9a4c"/>
<rect x="-4.65" y="-64.6" width="9.3" height="64.6" rx="2.4" fill="#a8d12e" stroke="#2c9a3c" stroke-width="1.3"/>
</g>
<g transform="translate(215.65 625.60) rotate(0.00)">
<g fill="none" stroke="#2e3c9c" stroke-width="1.2" stroke-linecap="round">
<path d="M-0.83,-0.5 C-10.07,0.17 -15.44,3.79 -13.43,8.43"/>
<path d="M-0.52,-0.5 C-6.27,0.26 -9.62,5.94 -8.37,13.21"/>
<path d="M-0.11,-0.5 C-1.31,0.29 -2.01,6.57 -1.75,14.60"/>
<path d="M0.41,-0.5 C5.03,0.26 7.72,5.94 6.71,13.21"/>
<path d="M0.79,-0.5 C9.63,0.17 14.77,3.79 12.84,8.42"/>
</g>
<polygon points="-13.83,11.20 -16.08,5.82 -10.14,6.68" fill="#2e3c9c"/>
<polygon points="-8.62,16.00 -11.16,10.75 -5.18,11.29" fill="#2e3c9c"/>
<polygon points="-1.80,17.40 -4.71,12.34 1.29,12.46" fill="#2e3c9c"/>
<polygon points="6.91,16.00 3.56,11.23 9.55,10.80" fill="#2e3c9c"/>
<polygon points="13.23,11.20 9.57,6.66 15.51,5.83" fill="#2e3c9c"/>
<rect x="-4.65" y="-65.4" width="9.3" height="65.4" rx="2.4" fill="#8c8cd3" stroke="#3a46a6" stroke-width="1.3"/>
</g>
<rect x="108" y="651.3" width="156.8" height="6.900000000000091" fill="#1b8bd2" stroke="#0c3a5c" stroke-width="0.9"/>
<path d="M111.00,651.60 L111.40,643.20 L112.90,643.20 L116.90,649.00 L120.90,643.20 L122.40,643.20 L122.80,651.60Z M124.86,651.60 L125.26,643.20 L126.76,643.20 L130.76,649.00 L134.76,643.20 L136.26,643.20 L136.66,651.60Z M138.72,651.60 L139.12,643.20 L140.62,643.20 L144.62,649.00 L148.62,643.20 L150.12,643.20 L150.52,651.60Z M152.58,651.60 L152.98,643.20 L154.48,643.20 L158.48,649.00 L162.48,643.20 L163.98,643.20 L164.38,651.60Z M166.44,651.60 L166.84,643.20 L168.34,643.20 L172.34,649.00 L176.34,643.20 L177.84,643.20 L178.24,651.60Z M180.30,651.60 L180.70,643.20 L182.20,643.20 L186.20,649.00 L190.20,643.20 L191.70,643.20 L192.10,651.60Z M194.16,651.60 L194.56,643.20 L196.06,643.20 L200.06,649.00 L204.06,643.20 L205.56,643.20 L205.96,651.60Z M208.02,651.60 L208.42,643.20 L209.92,643.20 L213.92,649.00 L217.92,643.20 L219.42,643.20 L219.82,651.60Z M221.88,651.60 L222.28,643.20 L223.78,643.20 L227.78,649.00 L231.78,643.20 L233.28,643.20 L233.68,651.60Z M235.74,651.60 L236.14,643.20 L237.64,643.20 L241.64,649.00 L245.64,643.20 L247.14,643.20 L247.54,651.60Z M249.60,651.60 L250.00,643.20 L251.50,643.20 L255.50,649.00 L259.50,643.20 L261.00,643.20 L261.40,651.60Z " fill="#0f2f4a"/>
<text x="64.6" y="677" font-size="12.6" fill="#231f20" stroke="#231f20" stroke-width="0.3" letter-spacing="0.25" text-anchor="start" >Step 2: Wash unbound phage</text>
<line x1="249.4" y1="600.2" x2="311" y2="600.2" stroke="#111" stroke-width="2.2"/>
<polygon points="320.2,600.2 309.3,594.4 309.3,606" fill="#111"/>
<g transform="translate(364.10 603.90) rotate(-21.60)">
<g fill="none" stroke="#1b9a4c" stroke-width="1.2" stroke-linecap="round">
<path d="M-0.83,-0.5 C-10.35,0.22 -15.87,5.04 -13.80,11.20"/>
<path d="M-0.52,-0.5 C-6.45,0.32 -9.89,7.20 -8.60,16.00"/>
<path d="M-0.11,-0.5 C-1.35,0.35 -2.07,7.83 -1.80,17.40"/>
<path d="M0.41,-0.5 C5.18,0.32 7.93,7.20 6.90,16.00"/>
<path d="M0.79,-0.5 C9.90,0.22 15.18,5.04 13.20,11.20"/>
</g>
<rect x="-16.00" y="9.00" width="4.4" height="4.4" transform="rotate(45 -13.80 11.20)" fill="#1b9a4c"/>
<rect x="-10.80" y="13.80" width="4.4" height="4.4" transform="rotate(45 -8.60 16.00)" fill="#1b9a4c"/>
<rect x="-4.00" y="15.20" width="4.4" height="4.4" transform="rotate(45 -1.80 17.40)" fill="#1b9a4c"/>
<rect x="4.70" y="13.80" width="4.4" height="4.4" transform="rotate(45 6.90 16.00)" fill="#1b9a4c"/>
<rect x="11.00" y="9.00" width="4.4" height="4.4" transform="rotate(45 13.20 11.20)" fill="#1b9a4c"/>
<rect x="-4.65" y="-62.6" width="9.3" height="62.6" rx="2.4" fill="#a8d12e" stroke="#2c9a3c" stroke-width="1.3"/>
</g>
<g transform="translate(428.30 610.50) rotate(34.50)">
<g fill="none" stroke="#2e3c9c" stroke-width="1.2" stroke-linecap="round">
<path d="M-0.83,-0.5 C-10.07,0.17 -15.44,3.79 -13.43,8.43"/>
<path d="M-0.52,-0.5 C-6.27,0.26 -9.62,5.94 -8.37,13.21"/>
<path d="M-0.11,-0.5 C-1.31,0.29 -2.01,6.57 -1.75,14.60"/>
<path d="M0.41,-0.5 C5.03,0.26 7.72,5.94 6.71,13.21"/>
<path d="M0.79,-0.5 C9.63,0.17 14.77,3.79 12.84,8.42"/>
</g>
<polygon points="-13.83,11.20 -16.08,5.82 -10.14,6.68" fill="#2e3c9c"/>
<polygon points="-8.62,16.00 -11.16,10.75 -5.18,11.29" fill="#2e3c9c"/>
<polygon points="-1.80,17.40 -4.71,12.34 1.29,12.46" fill="#2e3c9c"/>
<polygon points="6.91,16.00 3.56,11.23 9.55,10.80" fill="#2e3c9c"/>
<polygon points="13.23,11.20 9.57,6.66 15.51,5.83" fill="#2e3c9c"/>
<rect x="-4.65" y="-64" width="9.3" height="64" rx="2.4" fill="#8c8cd3" stroke="#3a46a6" stroke-width="1.3"/>
</g>
<rect x="316.4" y="651.3" width="157.90000000000003" height="6.900000000000091" fill="#1b8bd2" stroke="#0c3a5c" stroke-width="0.9"/>
<path d="M319.40,651.60 L319.80,643.20 L321.30,643.20 L325.30,649.00 L329.30,643.20 L330.80,643.20 L331.20,651.60Z M333.32,651.60 L333.72,643.20 L335.22,643.20 L339.22,649.00 L343.22,643.20 L344.72,643.20 L345.12,651.60Z M347.24,651.60 L347.64,643.20 L349.14,643.20 L353.14,649.00 L357.14,643.20 L358.64,643.20 L359.04,651.60Z M361.16,651.60 L361.56,643.20 L363.06,643.20 L367.06,649.00 L371.06,643.20 L372.56,643.20 L372.96,651.60Z M375.08,651.60 L375.48,643.20 L376.98,643.20 L380.98,649.00 L384.98,643.20 L386.48,643.20 L386.88,651.60Z M389.00,651.60 L389.40,643.20 L390.90,643.20 L394.90,649.00 L398.90,643.20 L400.40,643.20 L400.80,651.60Z M402.92,651.60 L403.32,643.20 L404.82,643.20 L408.82,649.00 L412.82,643.20 L414.32,643.20 L414.72,651.60Z M416.84,651.60 L417.24,643.20 L418.74,643.20 L422.74,649.00 L426.74,643.20 L428.24,643.20 L428.64,651.60Z M430.76,651.60 L431.16,643.20 L432.66,643.20 L436.66,649.00 L440.66,643.20 L442.16,643.20 L442.56,651.60Z M444.68,651.60 L445.08,643.20 L446.58,643.20 L450.58,649.00 L454.58,643.20 L456.08,643.20 L456.48,651.60Z M458.60,651.60 L459.00,643.20 L460.50,643.20 L464.50,649.00 L468.50,643.20 L470.00,643.20 L470.40,651.60Z " fill="#0f2f4a"/>
<text x="304.9" y="677.2" font-size="12.6" fill="#231f20" stroke="#231f20" stroke-width="0.3" letter-spacing="0.25" text-anchor="start" >Step 3: Elute target bound phage</text>
<line x1="387.2" y1="580" x2="409.6" y2="510" stroke="#111" stroke-width="2.3"/>
<polygon points="412.3,501.8 415.3,513.6 402.8,511" fill="#111"/>
<text x="411.8" y="538.3" font-size="12.6" fill="#231f20" stroke="#231f20" stroke-width="0.3" letter-spacing="0.25" text-anchor="start" >Step 4: Amplify in <tspan font-style="italic">E.coli</tspan></text>
<g transform="translate(383.50 478.70) rotate(16.00)">
<g fill="none" stroke="#1b9a4c" stroke-width="1.2" stroke-linecap="round">
<path d="M-0.83,-0.5 C-10.35,0.22 -15.87,5.04 -13.80,11.20"/>
<path d="M-0.52,-0.5 C-6.45,0.32 -9.89,7.20 -8.60,16.00"/>
<path d="M-0.11,-0.5 C-1.35,0.35 -2.07,7.83 -1.80,17.40"/>
<path d="M0.41,-0.5 C5.18,0.32 7.93,7.20 6.90,16.00"/>
<path d="M0.79,-0.5 C9.90,0.22 15.18,5.04 13.20,11.20"/>
</g>
<rect x="-16.00" y="9.00" width="4.4" height="4.4" transform="rotate(45 -13.80 11.20)" fill="#1b9a4c"/>
<rect x="-10.80" y="13.80" width="4.4" height="4.4" transform="rotate(45 -8.60 16.00)" fill="#1b9a4c"/>
<rect x="-4.00" y="15.20" width="4.4" height="4.4" transform="rotate(45 -1.80 17.40)" fill="#1b9a4c"/>
<rect x="4.70" y="13.80" width="4.4" height="4.4" transform="rotate(45 6.90 16.00)" fill="#1b9a4c"/>
<rect x="11.00" y="9.00" width="4.4" height="4.4" transform="rotate(45 13.20 11.20)" fill="#1b9a4c"/>
<rect x="-4.65" y="-64.5" width="9.3" height="64.5" rx="2.4" fill="#a8d12e" stroke="#2c9a3c" stroke-width="1.3"/>
</g>
<g transform="translate(371.50 453.90) rotate(-20.00)">
<g fill="none" stroke="#1b9a4c" stroke-width="1.2" stroke-linecap="round">
<path d="M-0.83,-0.5 C-10.35,0.22 -15.87,5.04 -13.80,11.20"/>
<path d="M-0.52,-0.5 C-6.45,0.32 -9.89,7.20 -8.60,16.00"/>
<path d="M-0.11,-0.5 C-1.35,0.35 -2.07,7.83 -1.80,17.40"/>
<path d="M0.41,-0.5 C5.18,0.32 7.93,7.20 6.90,16.00"/>
<path d="M0.79,-0.5 C9.90,0.22 15.18,5.04 13.20,11.20"/>
</g>
<rect x="-16.00" y="9.00" width="4.4" height="4.4" transform="rotate(45 -13.80 11.20)" fill="#1b9a4c"/>
<rect x="-10.80" y="13.80" width="4.4" height="4.4" transform="rotate(45 -8.60 16.00)" fill="#1b9a4c"/>
<rect x="-4.00" y="15.20" width="4.4" height="4.4" transform="rotate(45 -1.80 17.40)" fill="#1b9a4c"/>
<rect x="4.70" y="13.80" width="4.4" height="4.4" transform="rotate(45 6.90 16.00)" fill="#1b9a4c"/>
<rect x="11.00" y="9.00" width="4.4" height="4.4" transform="rotate(45 13.20 11.20)" fill="#1b9a4c"/>
<rect x="-4.65" y="-64" width="9.3" height="64" rx="2.4" fill="#a8d12e" stroke="#2c9a3c" stroke-width="1.3"/>
</g>
<g transform="translate(418.90 464.90) rotate(-19.40)">
<g fill="none" stroke="#1b9a4c" stroke-width="1.2" stroke-linecap="round">
<path d="M-0.83,-0.5 C-10.35,0.22 -15.87,5.04 -13.80,11.20"/>
<path d="M-0.52,-0.5 C-6.45,0.32 -9.89,7.20 -8.60,16.00"/>
<path d="M-0.11,-0.5 C-1.35,0.35 -2.07,7.83 -1.80,17.40"/>
<path d="M0.41,-0.5 C5.18,0.32 7.93,7.20 6.90,16.00"/>
<path d="M0.79,-0.5 C9.90,0.22 15.18,5.04 13.20,11.20"/>
</g>
<rect x="-16.00" y="9.00" width="4.4" height="4.4" transform="rotate(45 -13.80 11.20)" fill="#1b9a4c"/>
<rect x="-10.80" y="13.80" width="4.4" height="4.4" transform="rotate(45 -8.60 16.00)" fill="#1b9a4c"/>
<rect x="-4.00" y="15.20" width="4.4" height="4.4" transform="rotate(45 -1.80 17.40)" fill="#1b9a4c"/>
<rect x="4.70" y="13.80" width="4.4" height="4.4" transform="rotate(45 6.90 16.00)" fill="#1b9a4c"/>
<rect x="11.00" y="9.00" width="4.4" height="4.4" transform="rotate(45 13.20 11.20)" fill="#1b9a4c"/>
<rect x="-4.65" y="-63" width="9.3" height="63" rx="2.4" fill="#a8d12e" stroke="#2c9a3c" stroke-width="1.3"/>
</g>
<g transform="translate(443.50 437.50) rotate(20.20)">
<g fill="none" stroke="#2e3c9c" stroke-width="1.2" stroke-linecap="round">
<path d="M-0.83,-0.5 C-10.07,0.17 -15.44,3.79 -13.43,8.43"/>
<path d="M-0.52,-0.5 C-6.27,0.26 -9.62,5.94 -8.37,13.21"/>
<path d="M-0.11,-0.5 C-1.31,0.29 -2.01,6.57 -1.75,14.60"/>
<path d="M0.41,-0.5 C5.03,0.26 7.72,5.94 6.71,13.21"/>
<path d="M0.79,-0.5 C9.63,0.17 14.77,3.79 12.84,8.42"/>
</g>
<polygon points="-13.83,11.20 -16.08,5.82 -10.14,6.68" fill="#2e3c9c"/>
<polygon points="-8.62,16.00 -11.16,10.75 -5.18,11.29" fill="#2e3c9c"/>
<polygon points="-1.80,17.40 -4.71,12.34 1.29,12.46" fill="#2e3c9c"/>
<polygon points="6.91,16.00 3.56,11.23 9.55,10.80" fill="#2e3c9c"/>
<polygon points="13.23,11.20 9.57,6.66 15.51,5.83" fill="#2e3c9c"/>
<rect x="-4.65" y="-62" width="9.3" height="62" rx="2.4" fill="#8c8cd3" stroke="#3a46a6" stroke-width="1.3"/>
</g>
<g transform="translate(487.50 462.00) rotate(-10.00)">
<g fill="none" stroke="#2e3c9c" stroke-width="1.2" stroke-linecap="round">
<path d="M-0.83,-0.5 C-10.07,0.17 -15.44,3.79 -13.43,8.43"/>
<path d="M-0.52,-0.5 C-6.27,0.26 -9.62,5.94 -8.37,13.21"/>
<path d="M-0.11,-0.5 C-1.31,0.29 -2.01,6.57 -1.75,14.60"/>
<path d="M0.41,-0.5 C5.03,0.26 7.72,5.94 6.71,13.21"/>
<path d="M0.79,-0.5 C9.63,0.17 14.77,3.79 12.84,8.42"/>
</g>
<polygon points="-13.83,11.20 -16.08,5.82 -10.14,6.68" fill="#2e3c9c"/>
<polygon points="-8.62,16.00 -11.16,10.75 -5.18,11.29" fill="#2e3c9c"/>
<polygon points="-1.80,17.40 -4.71,12.34 1.29,12.46" fill="#2e3c9c"/>
<polygon points="6.91,16.00 3.56,11.23 9.55,10.80" fill="#2e3c9c"/>
<polygon points="13.23,11.20 9.57,6.66 15.51,5.83" fill="#2e3c9c"/>
<rect x="-4.65" y="-61" width="9.3" height="61" rx="2.4" fill="#8c8cd3" stroke="#3a46a6" stroke-width="1.3"/>
</g>
<g transform="translate(452.70 485.50) rotate(21.50)">
<g fill="none" stroke="#2e3c9c" stroke-width="1.2" stroke-linecap="round">
<path d="M-0.83,-0.5 C-10.07,0.17 -15.44,3.79 -13.43,8.43"/>
<path d="M-0.52,-0.5 C-6.27,0.26 -9.62,5.94 -8.37,13.21"/>
<path d="M-0.11,-0.5 C-1.31,0.29 -2.01,6.57 -1.75,14.60"/>
<path d="M0.41,-0.5 C5.03,0.26 7.72,5.94 6.71,13.21"/>
<path d="M0.79,-0.5 C9.63,0.17 14.77,3.79 12.84,8.42"/>
</g>
<polygon points="-13.83,11.20 -16.08,5.82 -10.14,6.68" fill="#2e3c9c"/>
<polygon points="-8.62,16.00 -11.16,10.75 -5.18,11.29" fill="#2e3c9c"/>
<polygon points="-1.80,17.40 -4.71,12.34 1.29,12.46" fill="#2e3c9c"/>
<polygon points="6.91,16.00 3.56,11.23 9.55,10.80" fill="#2e3c9c"/>
<polygon points="13.23,11.20 9.57,6.66 15.51,5.83" fill="#2e3c9c"/>
<rect x="-4.65" y="-61.5" width="9.3" height="61.5" rx="2.4" fill="#8c8cd3" stroke="#3a46a6" stroke-width="1.3"/>
</g>
<line x1="417.5" y1="407.6" x2="417.5" y2="332" stroke="#111" stroke-width="2.4" stroke-dasharray="4.4,2.9"/>
<polygon points="417.5,321.4 411.6,333.2 417.5,331.6 423.4,333.2" fill="#111"/>
<line x1="341" y1="420" x2="214" y2="383.8" stroke="#111" stroke-width="2.3" stroke-dasharray="5,2.6"/>
<polygon points="204.6,380.4 216.5,377.3 214.6,383.4 213.6,388.9" fill="#111"/>
<text x="200.8" y="370.3" font-size="12.6" fill="#231f20" stroke="#231f20" stroke-width="0.3" letter-spacing="0.25" text-anchor="start" >Step 5: Repeat 3-5 rounds</text>
<rect x="340.5" y="288.5" width="154.5" height="25.3" fill="#dcdcdc" stroke="#6a6a6a" stroke-width="1"/>
<text x="417.3" y="305" font-size="11.8" fill="#231f20" stroke="#231f20" stroke-width="0.3" letter-spacing="0.1" text-anchor="middle" >Sequence</text>
<polyline points="495,301 598.9,301 598.9,370" fill="none" stroke="#111" stroke-width="1.9"/>
<polygon points="598.9,377.8 593.4,367.4 598.9,369.6 604.4,367.4" fill="#111"/>
<defs><radialGradient id="well" cx="0.45" cy="0.4" r="0.6"><stop offset="0" stop-color="#e8e8e8"/><stop offset="0.6" stop-color="#a8a8a8"/><stop offset="1" stop-color="#4a4a4a"/></radialGradient><radialGradient id="well2" cx="0.45" cy="0.4" r="0.6"><stop offset="0" stop-color="#cfcfcf"/><stop offset="0.6" stop-color="#999"/><stop offset="1" stop-color="#444"/></radialGradient></defs>
<path d="M552,384 L640,384 L644,388 L644,445 Q644,447.4 641.5,447.4 L552,447.4 Q549.5,447.4 549.5,445 L549.5,386.5 Q549.5,384 552,384Z" fill="#121212"/>
<path d="M552.5,385.5 L639.5,385.5 L642.6,388.6 L642.6,444.5 Q642.6,446 641,446 L552.5,446 Q551,446 551,444.5 L551,387 Q551,385.5 552.5,385.5Z" fill="none" stroke="#3a3a3a" stroke-width="0.8"/>
<circle cx="558.9" cy="391.4" r="2.3" fill="url(#well)"/>
<circle cx="565.8" cy="391.4" r="1.95" fill="url(#well)"/>
<circle cx="572.7" cy="391.4" r="1.95" fill="url(#well)"/>
<circle cx="579.7" cy="391.4" r="1.95" fill="url(#well)"/>
<circle cx="586.6" cy="391.4" r="1.95" fill="url(#well)"/>
<circle cx="593.5" cy="391.4" r="1.95" fill="url(#well)"/>
<circle cx="600.4" cy="391.4" r="2.3" fill="url(#well)"/>
<circle cx="607.3" cy="391.4" r="2.3" fill="url(#well)"/>
<circle cx="614.3" cy="391.4" r="2.3" fill="url(#well)"/>
<circle cx="621.2" cy="391.4" r="2.3" fill="url(#well2)"/>
<circle cx="628.1" cy="391.4" r="2.3" fill="url(#well2)"/>
<circle cx="635.0" cy="391.4" r="2.3" fill="url(#well2)"/>
<circle cx="558.9" cy="398.2" r="2.3" fill="url(#well)"/>
<circle cx="565.8" cy="398.2" r="1.95" fill="url(#well)"/>
<circle cx="572.7" cy="398.2" r="1.95" fill="url(#well)"/>
<circle cx="579.7" cy="398.2" r="1.95" fill="url(#well)"/>
<circle cx="586.6" cy="398.2" r="1.95" fill="url(#well)"/>
<circle cx="593.5" cy="398.2" r="1.95" fill="url(#well)"/>
<circle cx="600.4" cy="398.2" r="2.3" fill="url(#well)"/>
<circle cx="607.3" cy="398.2" r="2.3" fill="url(#well)"/>
<circle cx="614.3" cy="398.2" r="2.3" fill="url(#well)"/>
<circle cx="621.2" cy="398.2" r="2.3" fill="url(#well2)"/>
<circle cx="628.1" cy="398.2" r="2.3" fill="url(#well2)"/>
<circle cx="635.0" cy="398.2" r="2.3" fill="url(#well2)"/>
<circle cx="558.9" cy="405.0" r="2.3" fill="url(#well)"/>
<circle cx="565.8" cy="405.0" r="1.95" fill="url(#well)"/>
<circle cx="572.7" cy="405.0" r="1.95" fill="url(#well)"/>
<circle cx="579.7" cy="405.0" r="1.95" fill="url(#well)"/>
<circle cx="586.6" cy="405.0" r="1.95" fill="url(#well)"/>
<circle cx="593.5" cy="405.0" r="1.95" fill="url(#well)"/>
<circle cx="600.4" cy="405.0" r="2.3" fill="url(#well)"/>
<circle cx="607.3" cy="405.0" r="2.3" fill="url(#well)"/>
<circle cx="614.3" cy="405.0" r="2.3" fill="url(#well)"/>
<circle cx="621.2" cy="405.0" r="2.3" fill="url(#well2)"/>
<circle cx="628.1" cy="405.0" r="2.3" fill="url(#well2)"/>
<circle cx="635.0" cy="405.0" r="2.3" fill="url(#well2)"/>
<circle cx="558.9" cy="411.8" r="2.3" fill="url(#well)"/>
<circle cx="565.8" cy="411.8" r="1.95" fill="url(#well)"/>
<circle cx="572.7" cy="411.8" r="1.95" fill="url(#well)"/>
<circle cx="579.7" cy="411.8" r="1.95" fill="url(#well)"/>
<circle cx="586.6" cy="411.8" r="1.95" fill="url(#well)"/>
<circle cx="593.5" cy="411.8" r="1.95" fill="url(#well)"/>
<circle cx="600.4" cy="411.8" r="2.3" fill="url(#well)"/>
<circle cx="607.3" cy="411.8" r="2.3" fill="url(#well)"/>
<circle cx="614.3" cy="411.8" r="2.3" fill="url(#well)"/>
<circle cx="621.2" cy="411.8" r="2.3" fill="url(#well2)"/>
<circle cx="628.1" cy="411.8" r="2.3" fill="url(#well2)"/>
<circle cx="635.0" cy="411.8" r="2.3" fill="url(#well2)"/>
<circle cx="558.9" cy="418.6" r="2.3" fill="url(#well)"/>
<circle cx="565.8" cy="418.6" r="1.95" fill="url(#well)"/>
<circle cx="572.7" cy="418.6" r="1.95" fill="url(#well)"/>
<circle cx="579.7" cy="418.6" r="1.95" fill="url(#well)"/>
<circle cx="586.6" cy="418.6" r="1.95" fill="url(#well)"/>
<circle cx="593.5" cy="418.6" r="1.95" fill="url(#well)"/>
<circle cx="600.4" cy="418.6" r="2.3" fill="url(#well)"/>
<circle cx="607.3" cy="418.6" r="2.3" fill="url(#well)"/>
<circle cx="614.3" cy="418.6" r="2.3" fill="url(#well)"/>
<circle cx="621.2" cy="418.6" r="2.3" fill="url(#well2)"/>
<circle cx="628.1" cy="418.6" r="2.3" fill="url(#well2)"/>
<circle cx="635.0" cy="418.6" r="2.3" fill="url(#well2)"/>
<circle cx="558.9" cy="425.4" r="2.3" fill="url(#well)"/>
<circle cx="565.8" cy="425.4" r="1.95" fill="url(#well)"/>
<circle cx="572.7" cy="425.4" r="1.95" fill="url(#well)"/>
<circle cx="579.7" cy="425.4" r="1.95" fill="url(#well)"/>
<circle cx="586.6" cy="425.4" r="1.95" fill="url(#well)"/>
<circle cx="593.5" cy="425.4" r="1.95" fill="url(#well)"/>
<circle cx="600.4" cy="425.4" r="2.3" fill="url(#well)"/>
<circle cx="607.3" cy="425.4" r="2.3" fill="url(#well)"/>
<circle cx="614.3" cy="425.4" r="2.3" fill="url(#well)"/>
<circle cx="621.2" cy="425.4" r="2.3" fill="url(#well2)"/>
<circle cx="628.1" cy="425.4" r="2.3" fill="url(#well2)"/>
<circle cx="635.0" cy="425.4" r="2.3" fill="url(#well2)"/>
<circle cx="558.9" cy="432.3" r="2.3" fill="url(#well)"/>
<circle cx="565.8" cy="432.3" r="1.95" fill="url(#well)"/>
<circle cx="572.7" cy="432.3" r="1.95" fill="url(#well)"/>
<circle cx="579.7" cy="432.3" r="1.95" fill="url(#well)"/>
<circle cx="586.6" cy="432.3" r="1.95" fill="url(#well)"/>
<circle cx="593.5" cy="432.3" r="1.95" fill="url(#well)"/>
<circle cx="600.4" cy="432.3" r="2.3" fill="url(#well)"/>
<circle cx="607.3" cy="432.3" r="2.3" fill="url(#well)"/>
<circle cx="614.3" cy="432.3" r="2.3" fill="url(#well)"/>
<circle cx="621.2" cy="432.3" r="2.3" fill="url(#well2)"/>
<circle cx="628.1" cy="432.3" r="2.3" fill="url(#well2)"/>
<circle cx="635.0" cy="432.3" r="2.3" fill="url(#well2)"/>
<circle cx="558.9" cy="439.1" r="2.3" fill="url(#well)"/>
<circle cx="565.8" cy="439.1" r="1.95" fill="url(#well)"/>
<circle cx="572.7" cy="439.1" r="1.95" fill="url(#well)"/>
<circle cx="579.7" cy="439.1" r="1.95" fill="url(#well)"/>
<circle cx="586.6" cy="439.1" r="1.95" fill="url(#well)"/>
<circle cx="593.5" cy="439.1" r="1.95" fill="url(#well)"/>
<circle cx="600.4" cy="439.1" r="2.3" fill="url(#well)"/>
<circle cx="607.3" cy="439.1" r="2.3" fill="url(#well)"/>
<circle cx="614.3" cy="439.1" r="2.3" fill="url(#well)"/>
<circle cx="621.2" cy="439.1" r="2.3" fill="url(#well2)"/>
<circle cx="628.1" cy="439.1" r="2.3" fill="url(#well2)"/>
<circle cx="635.0" cy="439.1" r="2.3" fill="url(#well2)"/>
<text x="600" y="476.8" font-size="12.4" fill="#231f20" stroke="#231f20" stroke-width="0.3" letter-spacing="0.3" text-anchor="middle" >ELISA</text>
<line x1="599.1" y1="483.2" x2="599.1" y2="553" stroke="#111" stroke-width="2"/>
<polygon points="599.1,560 593.5,550.6 599.1,552.6 604.7,550.6" fill="#111"/>
<rect x="536.5" y="564.5" width="125.3" height="77.2" fill="#fff" stroke="#111" stroke-width="1.4"/>
<g fill="#d8d8d8" stroke="#a8a8a8" stroke-width="0.7">
<polygon points="540.3,572.5 545.5,572.5 542.9,637.3"/>
<polygon points="546.8,572.5 552.0,572.5 549.4,631.9"/>
<polygon points="553.4,572.5 558.6,572.5 556.0,629.8"/>
<polygon points="559.9,572.5 565.1,572.5 562.5,624.6"/>
<polygon points="566.5,572.5 571.7,572.5 569.1,621.5"/>
<polygon points="573.0,572.5 578.2,572.5 575.6,617.3"/>
<polygon points="579.6,572.5 584.8,572.5 582.2,610.1"/>
<polygon points="586.1,572.5 591.4,572.5 588.8,605.9"/>
<polygon points="592.7,572.5 597.9,572.5 595.3,599.7"/>
<polygon points="599.2,572.5 604.5,572.5 601.9,594.5"/>
<polygon points="605.8,572.5 611.0,572.5 608.4,588.2"/>
<polygon points="612.3,572.5 617.5,572.5 614.9,585.1"/>
<polygon points="618.9,572.5 624.1,572.5 621.5,581.0"/>
<polygon points="625.4,572.5 630.6,572.5 628.0,577.9"/>
<polygon points="632.0,572.5 637.2,572.5 634.6,576.8"/>
<polygon points="638.5,572.5 643.8,572.5 641.1,575.8"/>
<polygon points="645.1,572.5 650.3,572.5 647.7,574.7"/>
<polygon points="651.6,572.5 656.9,572.5 654.2,574.7"/>
</g>
<rect x="538.3" y="569.9" width="121.7" height="2.6" fill="#c4c4c4"/>
<text x="613.5" y="628.8" font-size="12.9" fill="#231f20" stroke="#231f20" stroke-width="0.3" letter-spacing="0.2" text-anchor="start" >ITC</text>
<text x="544.3" y="655" font-size="12.9" fill="#231f20" stroke="#231f20" stroke-width="0.3" letter-spacing="0.2" text-anchor="start" >Affinity validation</text>
</svg></body></html>
